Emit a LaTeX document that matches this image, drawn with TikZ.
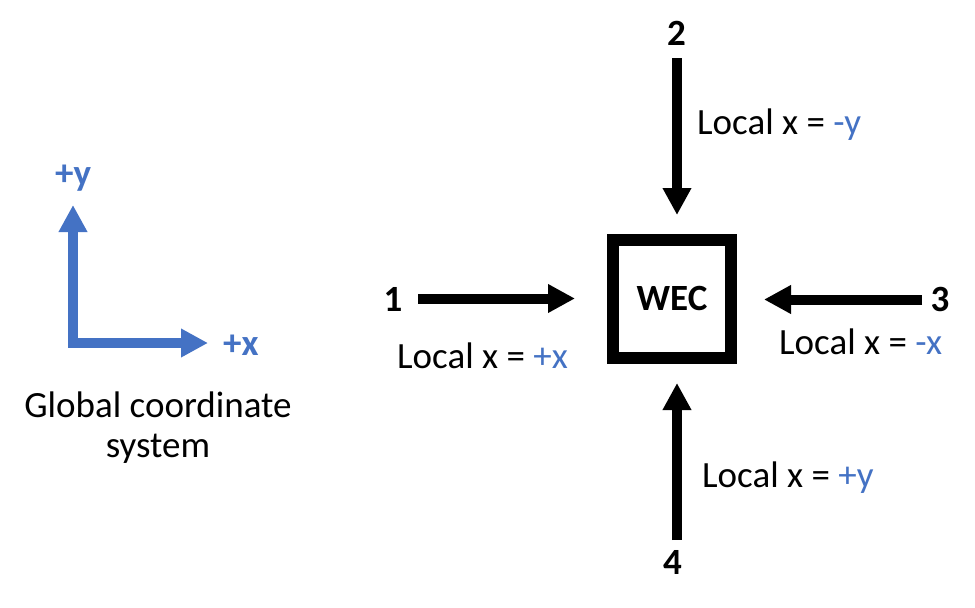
\documentclass[tikz,border=0pt]{standalone}
\usepackage{fontspec}
\setmainfont{Carlito}
\usetikzlibrary{arrows.meta}
\definecolor{axisblue}{HTML}{4472C4}

\begin{document}
\begin{tikzpicture}[x=1pt,y=-1pt,
  txt/.style={inner sep=0pt,font=\fontsize{37}{40}\selectfont},
  num/.style={inner sep=0pt,font=\fontsize{37}{40}\selectfont\bfseries},
  flow/.style={line width=10pt,-{Triangle[length=27pt,width=27pt]}},
  axis/.style={line width=10pt,axisblue,{Triangle[length=27pt,width=27pt]}-{Triangle[length=27pt,width=27pt]}}]
\useasboundingbox (0,0) rectangle (975,608);
\coordinate (o) at (73,343);
\coordinate (yend) at (73,205);
\coordinate (xend) at (208,343);
\draw[axis] (yend) -- (o) -- (xend);
\node[num,text=axisblue,anchor=base west] (ly) at (55,185) {+y};
\node[num,text=axisblue,anchor=base west] (lx) at (223,355) {+x};
\node[txt,align=center,anchor=base] (glob) at (158,457) {Global coordinate\\system};
\node[num,draw,line width=12pt,minimum size=118pt] (wec) at (672,298.5) {WEC};
\coordinate (s1) at (418,298.5);
\coordinate (s2) at (677,58);
\coordinate (s3) at (922,299.5);
\coordinate (s4) at (677,540);
\draw[flow,shorten >=32pt] (s1) -- (s1 -| wec.west);
\draw[flow,shorten >=18.5pt] (s2) -- (s2 |- wec.north);
\draw[flow,shorten >=27pt] (s3) -- (s3 -| wec.east);
\draw[flow,shorten >=19.5pt] (s4) -- (s4 |- wec.south);
\node[num,anchor=base] (n1) at (393,311) {1};
\node[num,anchor=base] (n2) at (676.5,45) {2};
\node[num,anchor=base] (n3) at (940,311) {3};
\node[num,anchor=base] (n4) at (672.5,574) {4};
\node[txt,anchor=base west] (l1) at (397,368) {Local x = \textcolor{axisblue}{+x}};
\node[txt,anchor=base west] (l2) at (697,134) {Local x = \textcolor{axisblue}{-y}};
\node[txt,anchor=base west] (l3) at (779,354) {Local x = \textcolor{axisblue}{-x}};
\node[txt,anchor=base west] (l4) at (702,487) {Local x = \textcolor{axisblue}{+y}};
\end{tikzpicture}
\end{document}
